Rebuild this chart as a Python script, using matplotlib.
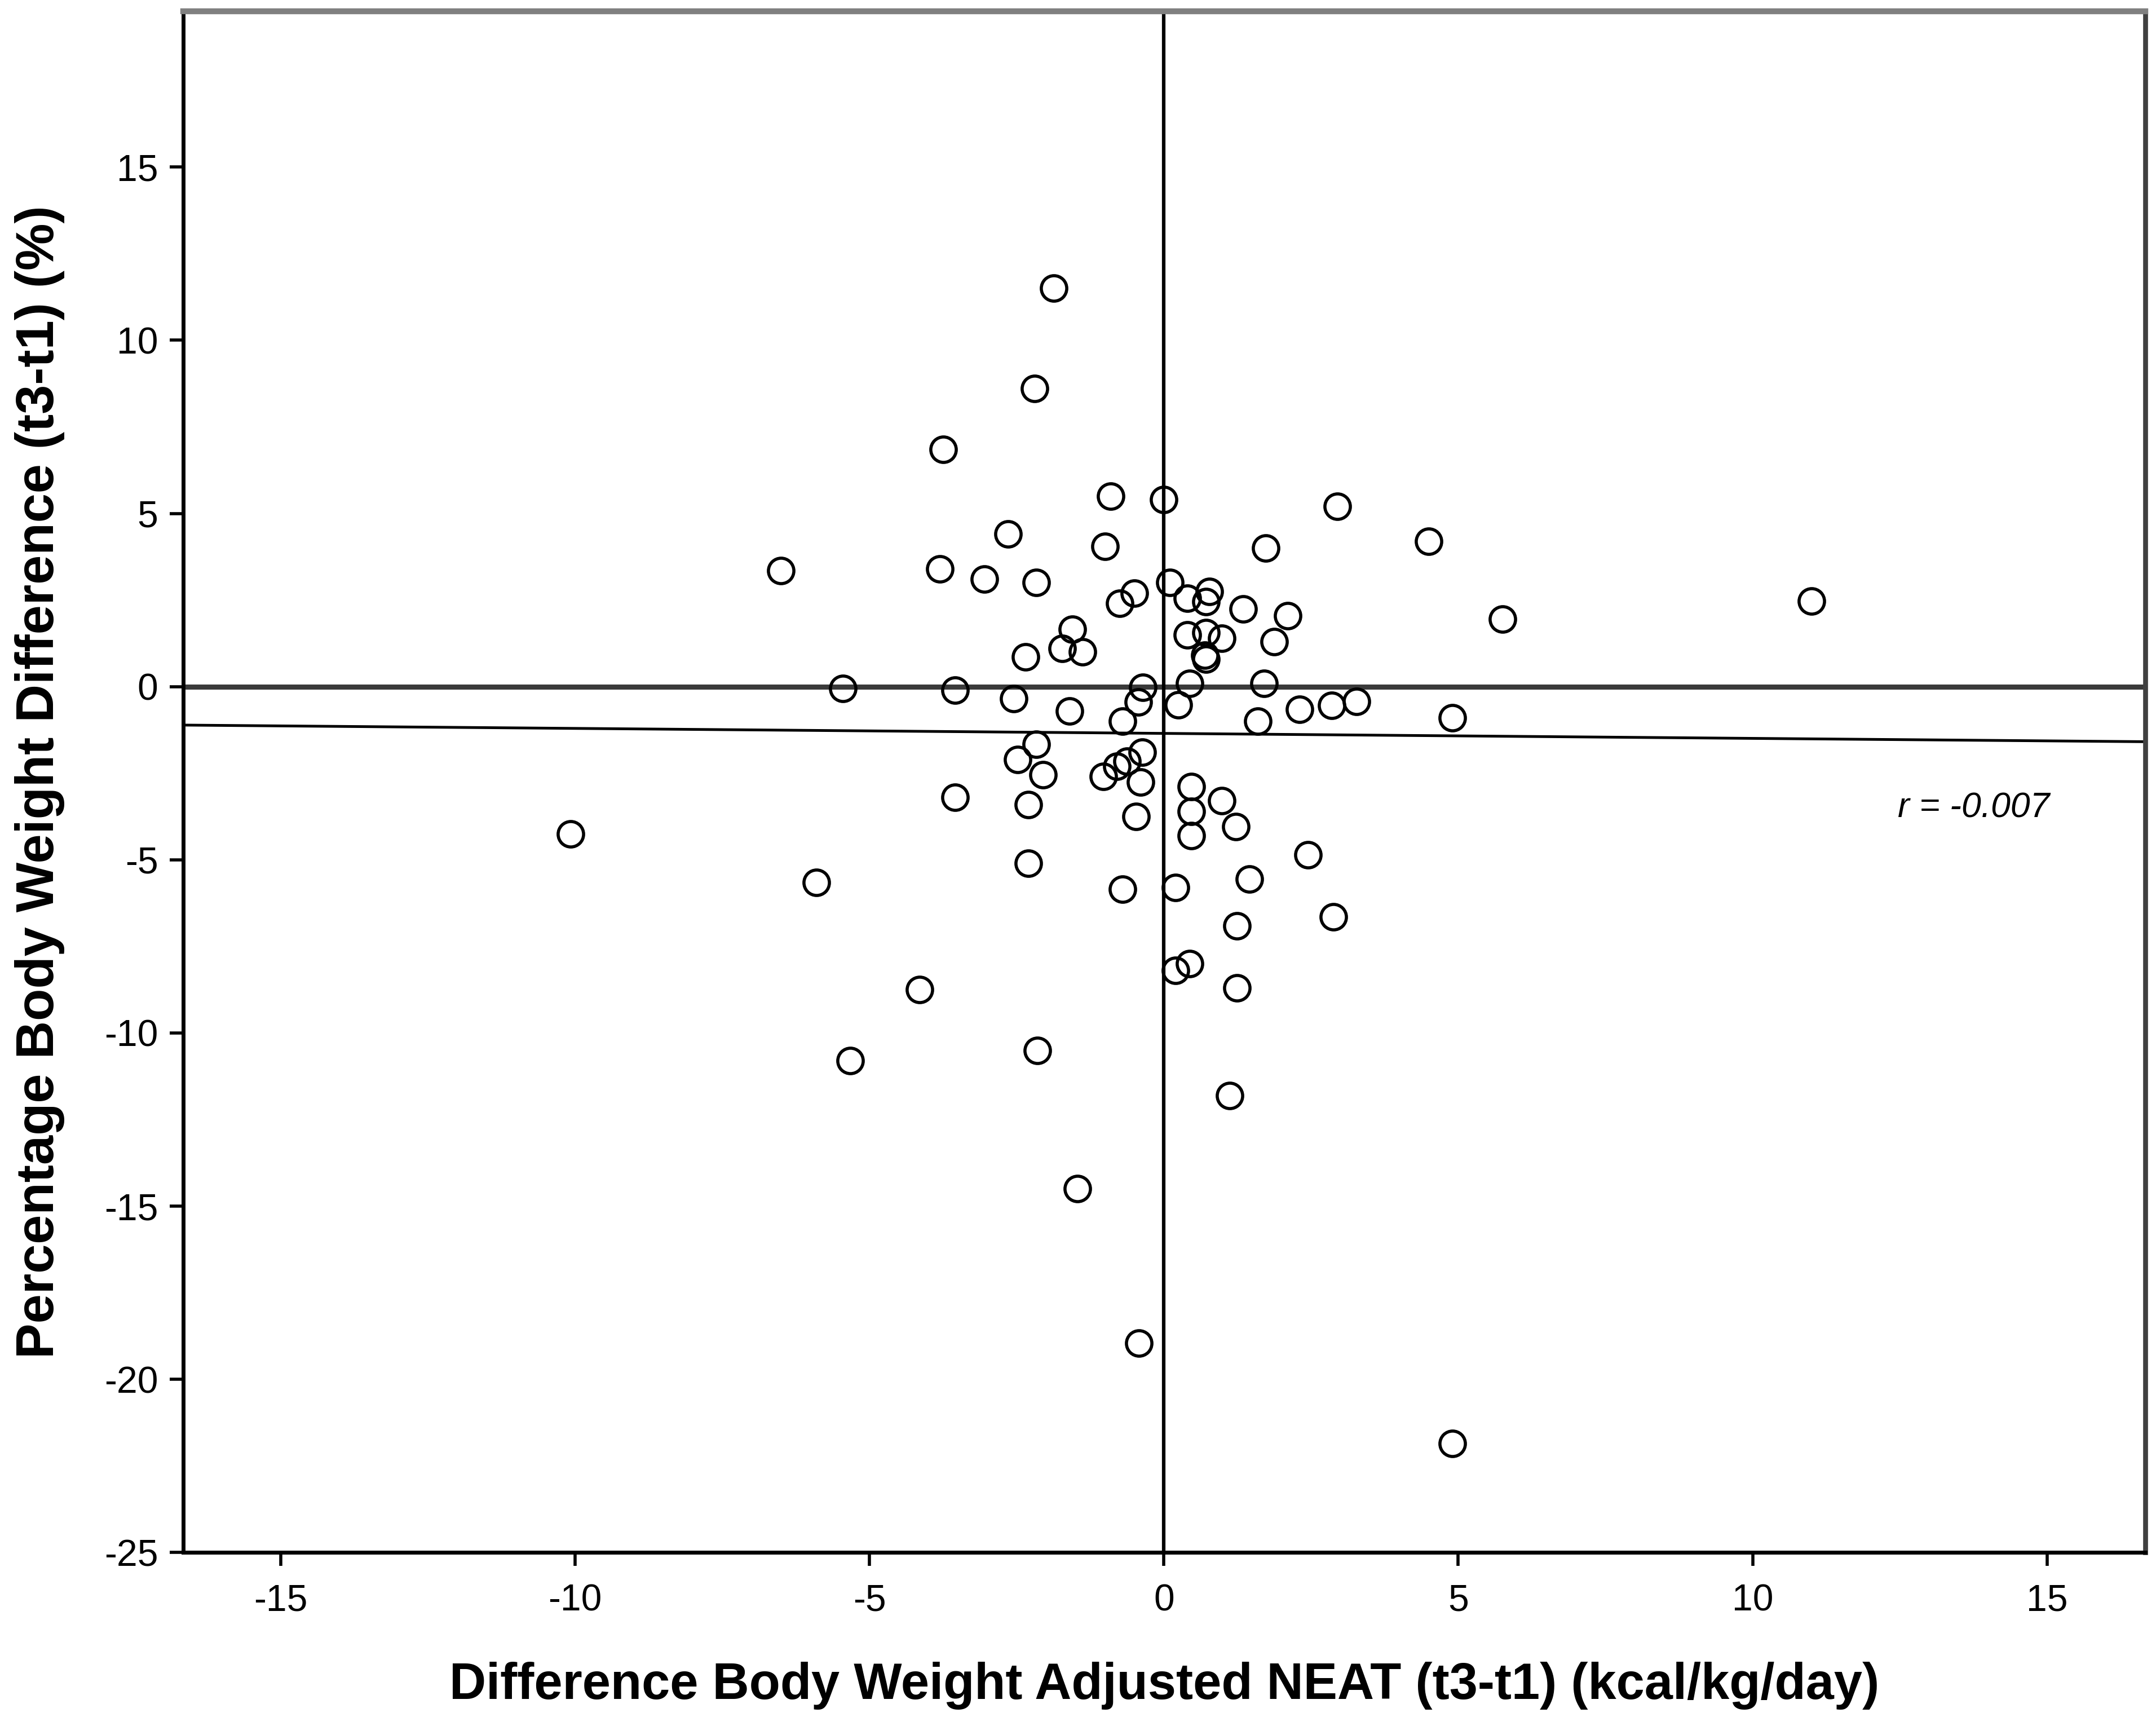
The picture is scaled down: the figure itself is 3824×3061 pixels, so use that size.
import numpy as np
import matplotlib
matplotlib.use("Agg")
import matplotlib.pyplot as plt

plt.rcParams['font.family'] = ['Liberation Sans', 'DejaVu Sans']
plt.rcParams['axes.unicode_minus'] = False

# NEAT difference (kcal/kg/day) and body weight difference (%)
neat_diff = [-1.87, -2.2, -3.75, -0.9, 0.0, 2.95, -2.65, 4.5, 1.73, -1.0,
             -6.5, -3.8, -3.05, -2.17, 0.1, 0.77, -0.5, 0.4, 0.72, -0.75,
             11.0, 1.35, 2.1, 5.75, -1.55, 0.4, 0.72, 0.98, 1.87, -1.73,
             -1.38, -2.35, 0.7, 0.72, -5.45, -3.55, 0.44, 1.7, -2.55, -0.36,
             -0.43, 0.25, 2.3, 2.85, 3.27, -1.6, 4.9, 1.6, -0.7, -2.17,
             -0.37, -2.48, -0.63, -0.8, -2.05, -1.03, -0.4, 0.47, -3.55, 0.98,
             -2.3, 0.47, -0.47, 1.22, -10.08, 0.47, 2.45, -2.3, 1.45, -5.9,
             -0.7, 0.2, 2.88, 1.24, 0.44, 0.2, -4.15, 1.24, -5.33, -2.15,
             1.12, -1.47, -0.42, 4.9]
bw_diff = [11.5, 8.6, 6.85, 5.5, 5.4, 5.2, 4.4, 4.2, 4.0, 4.05,
           3.35, 3.4, 3.1, 3.0, 3.0, 2.75, 2.7, 2.55, 2.45, 2.4,
           2.47, 2.25, 2.05, 1.95, 1.65, 1.5, 1.55, 1.4, 1.3, 1.1,
           1.0, 0.85, 0.9, 0.8, -0.05, -0.1, 0.09, 0.1, -0.35, -0.02,
           -0.45, -0.52, -0.65, -0.55, -0.42, -0.7, -0.9, -1.0, -1.0, -1.67,
           -1.9, -2.1, -2.15, -2.3, -2.55, -2.6, -2.75, -2.88, -3.2, -3.3,
           -3.4, -3.6, -3.75, -4.05, -4.25, -4.3, -4.85, -5.1, -5.55, -5.65,
           -5.85, -5.8, -6.65, -6.9, -8.0, -8.2, -8.75, -8.7, -10.8, -10.5,
           -11.8, -14.5, -18.95, -21.85]

fit_intercept = -1.35
fit_slope = -0.0144
r_label = "r = -0.007"

xticks = [-15, -10, -5, 0, 5, 10, 15]
yticks = [-25, -20, -15, -10, -5, 0, 5, 10, 15]
xlims = (-16.65, 16.67)
ylims = (-25.0, 19.5)

fig = plt.figure(figsize=(15.296, 12.244), dpi=250)
ax = fig.add_axes([0.0851, 0.1005, 0.9100, 0.8930])

ax.axhline(0, color="#3a3a3a", lw=2.6, zorder=1)
ax.axvline(0, color="black", lw=1.8, zorder=1)

xl = np.array(xlims)
ax.plot(xl, fit_intercept + fit_slope * xl, color="black", lw=1.4, zorder=1)

ax.plot(neat_diff, bw_diff, linestyle="none", marker="o", markersize=13,
        markerfacecolor="none", markeredgecolor="black", markeredgewidth=1.6, zorder=3)

ax.text(12.46, -3.5, r_label, style="italic", fontsize=18, ha="left", va="center")

ax.set_xlim(xlims)
ax.set_ylim(ylims)
ax.set_xticks(xticks)
ax.set_yticks(yticks)
ax.tick_params(axis="both", direction="out", length=7, width=1.6, labelsize=19, pad=6)
ax.tick_params(axis="x", pad=9)

for side in ["left", "bottom"]:
    ax.spines[side].set_color("black")
    ax.spines[side].set_linewidth(2)
ax.spines["top"].set_color("#808080")
ax.spines["top"].set_linewidth(3)
ax.spines["right"].set_color("#404040")
ax.spines["right"].set_linewidth(2.5)

ax.set_xlabel("Difference Body Weight Adjusted NEAT (t3-t1) (kcal/kg/day)",
              fontsize=26, fontweight="bold", labelpad=22)
ax.set_ylabel("Percentage Body Weight Difference (t3-t1) (%)",
              fontsize=27, fontweight="bold", labelpad=20)

fig.savefig("out.png", dpi=250)
